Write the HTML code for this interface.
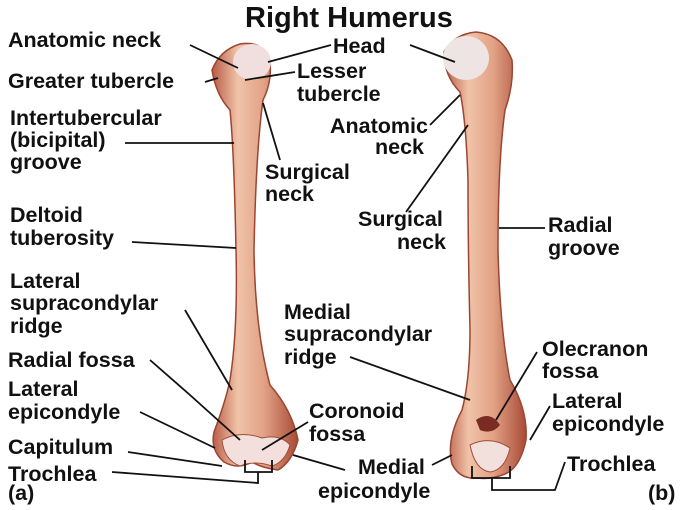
<!DOCTYPE html>
<html><head><meta charset="utf-8"><style>
html,body{margin:0;padding:0;background:#fff;}
svg{display:block;}
text{font-family:"Liberation Sans",sans-serif;font-weight:bold;font-size:21.5px;fill:#111;}
</style></head><body>
<svg width="680" height="510" viewBox="0 0 680 510" xmlns="http://www.w3.org/2000/svg">
<defs>
<linearGradient id="bg" x1="0" x2="1" y1="0" y2="0">
<stop offset="0" stop-color="#b95b44"/><stop offset="0.3" stop-color="#f0c3a9"/><stop offset="0.6" stop-color="#e2a285"/><stop offset="1" stop-color="#a84a36"/>
</linearGradient>
</defs>
<text x="245" y="27" style="font-size:29px">Right Humerus</text>
<!-- Bone A -->
<path d="M212,70 Q220,50 240,44 Q264,40 270,62 Q272,82 263,100 Q256,150 254,250 Q255,330 270,385 Q292,410 298,440 Q292,462 278,470 Q262,468 252,462 Q238,470 224,462 Q210,450 214,432 Q226,400 230,380 Q238,330 236,250 Q234,150 230,110 Q216,95 212,70 Z" fill="url(#bg)" stroke="#9a4632" stroke-width="1.5"/>
<ellipse cx="252" cy="62" rx="19" ry="18" fill="#f1dede"/>
<path d="M222,440 Q240,430 262,438 Q280,434 290,445 Q285,462 272,466 Q255,460 240,466 Q224,460 222,440Z" fill="#f3e0dc" stroke="#a04c3a"/>
<!-- Bone B -->
<path d="M444,52 Q454,34 476,32 Q502,34 512,60 Q514,85 505,110 Q498,160 498,250 Q500,330 510,380 Q528,410 526,440 Q520,468 505,474 Q490,480 478,478 Q460,480 452,464 Q446,440 462,410 Q470,380 470,330 Q468,250 468,180 Q466,120 460,92 Q444,76 444,52 Z" fill="url(#bg)" stroke="#9a4632" stroke-width="1.5"/>
<ellipse cx="466" cy="58" rx="23" ry="22" fill="#efe4e4"/>
<path d="M476,420 Q490,410 500,425 Q492,435 480,430Z" fill="#7a2c22"/>
<path d="M470,445 Q490,435 510,448 Q505,470 490,472 Q475,470 470,445Z" fill="#f2e0dc" stroke="#a04c3a"/>
<!-- labels A -->
<text x="8" y="47">Anatomic neck</text>
<text x="8" y="88">Greater tubercle</text>
<text x="10" y="125">Intertubercular</text>
<text x="10" y="147">(bicipital)</text>
<text x="10" y="169">groove</text>
<text x="10" y="222">Deltoid</text>
<text x="10" y="245">tuberosity</text>
<text x="10" y="288">Lateral</text>
<text x="10" y="310">supracondylar</text>
<text x="10" y="333">ridge</text>
<text x="8" y="367">Radial fossa</text>
<text x="8" y="396">Lateral</text>
<text x="8" y="419">epicondyle</text>
<text x="8" y="454">Capitulum</text>
<text x="8" y="481">Trochlea</text>
<text x="8" y="500">(a)</text>
<text x="333" y="53">Head</text>
<text x="297" y="78">Lesser</text>
<text x="297" y="101">tubercle</text>
<text x="265" y="179">Surgical</text>
<text x="265" y="201">neck</text>
<text x="330" y="133">Anatomic</text>
<text x="375" y="154">neck</text>
<text x="358" y="226">Surgical</text>
<text x="397" y="249">neck</text>
<text x="548" y="232">Radial</text>
<text x="548" y="255">groove</text>
<text x="284" y="319">Medial</text>
<text x="284" y="341">supracondylar</text>
<text x="284" y="364">ridge</text>
<text x="309" y="418">Coronoid</text>
<text x="309" y="441">fossa</text>
<text x="358" y="474">Medial</text>
<text x="318" y="498">epicondyle</text>
<text x="542" y="356">Olecranon</text>
<text x="542" y="378">fossa</text>
<text x="552" y="408">Lateral</text>
<text x="552" y="431">epicondyle</text>
<text x="567" y="471">Trochlea</text>
<text x="648" y="500">(b)</text>
<g stroke="#111" stroke-width="1.8" fill="none">
<path d="M190,45 L238,68"/>
<path d="M205,82 L218,78"/>
<path d="M331,45 L268,62"/>
<path d="M295,72 L245,80"/>
<path d="M125,143 L234,143"/>
<path d="M263,103 L280,160"/>
<path d="M132,242 L236,248"/>
<path d="M185,310 L232,390"/>
<path d="M150,360 L190,395 L240,440"/>
<path d="M140,412 L215,448"/>
<path d="M128,452 L222,466"/>
<path d="M112,472 L258,483 L258,472 M245,460 L245,472 L272,472 L272,460"/>
<path d="M308,422 L262,450"/>
<path d="M293,455 L345,470"/>
<path d="M410,45 L455,62"/>
<path d="M430,125 L460,95"/>
<path d="M406,212 L468,125"/>
<path d="M499,228 L545,228"/>
<path d="M350,357 L470,400"/>
<path d="M537,352 L496,420"/>
<path d="M550,406 L530,440"/>
<path d="M432,465 L452,455"/>
<path d="M565,462 L555,490 L492,490 L492,478 M472,466 L472,478 L510,478 L510,466"/>
</g>
</svg>
</body></html>
